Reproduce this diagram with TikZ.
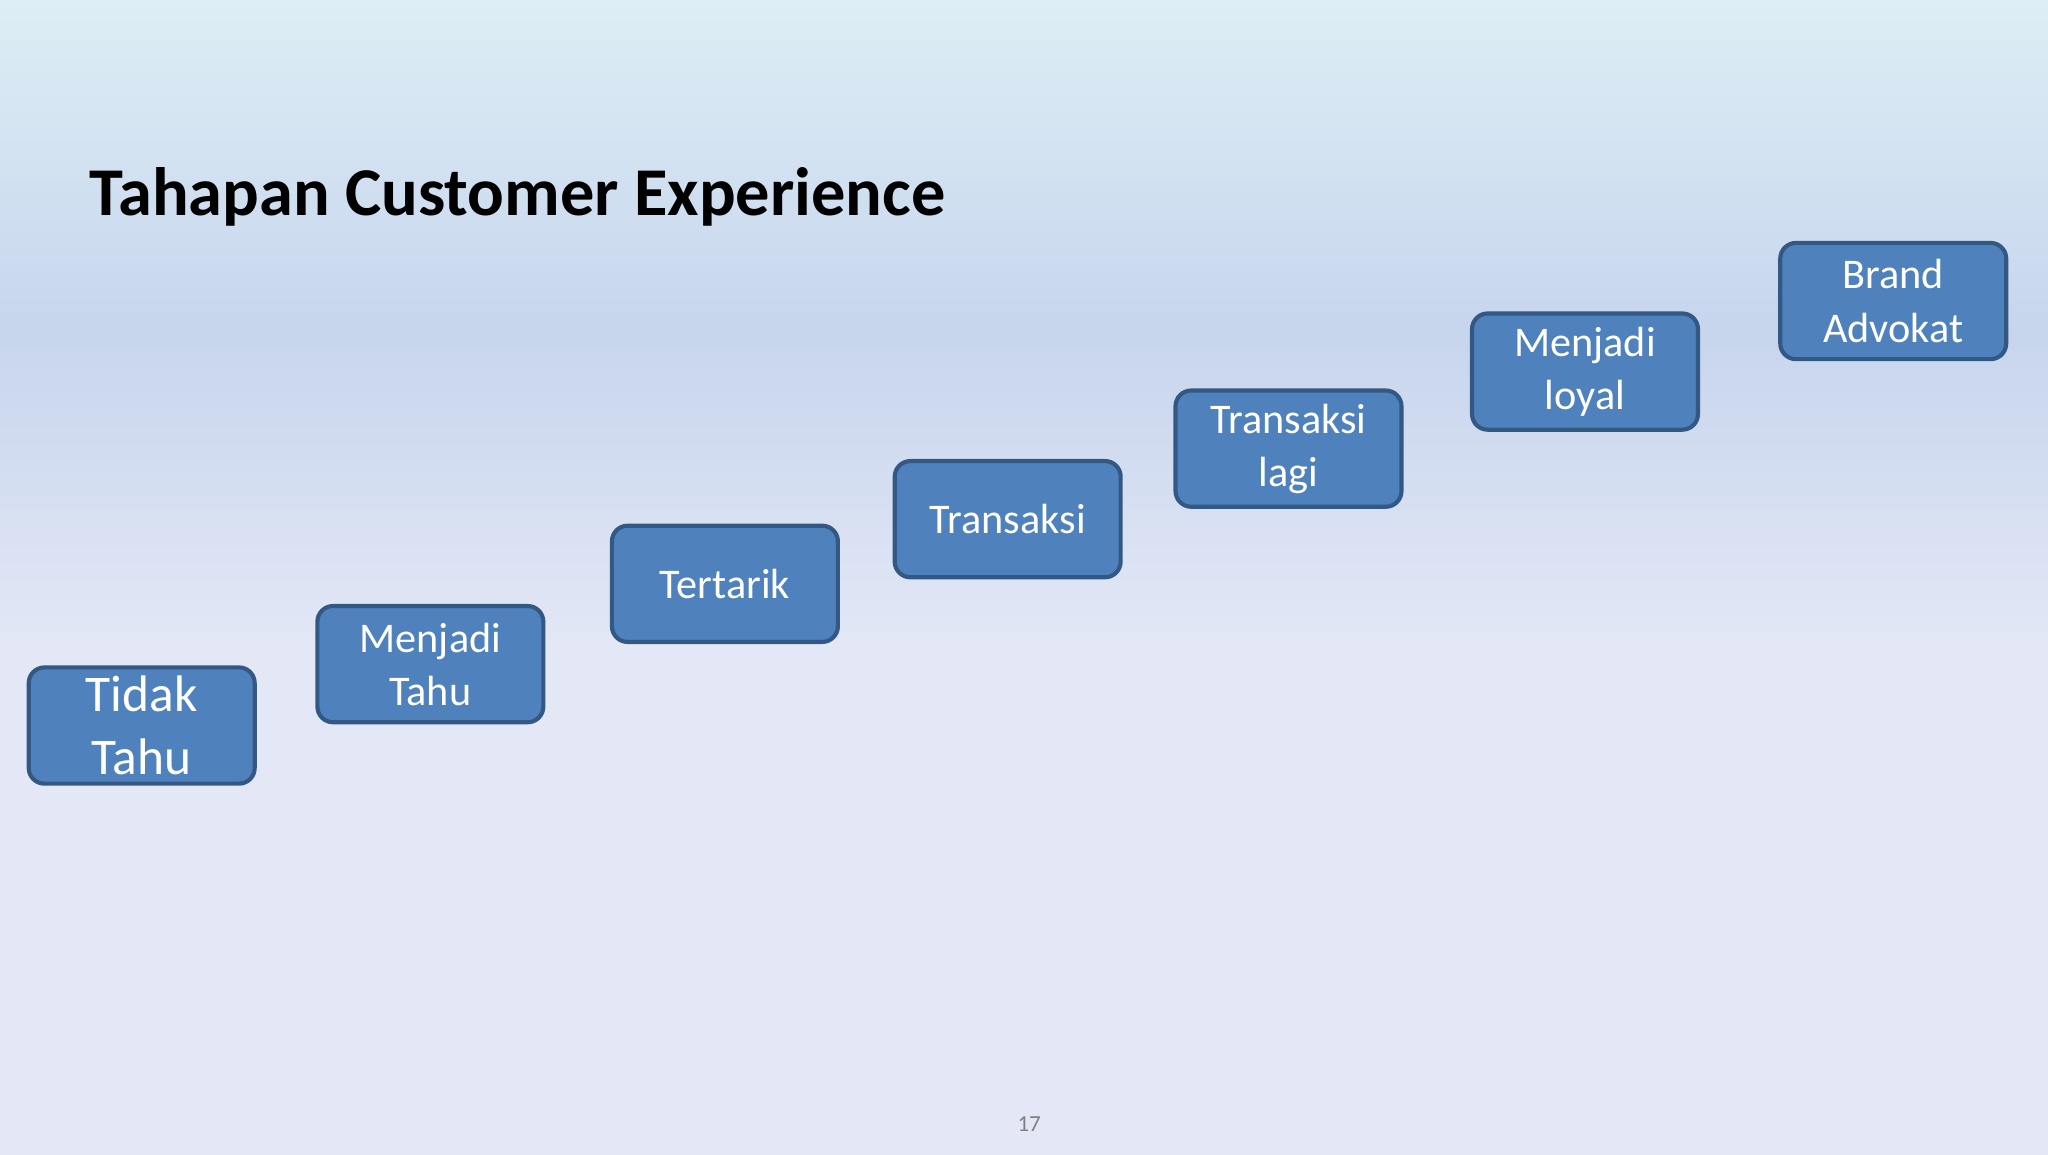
\documentclass[tikz,border=0pt]{standalone}
\usepackage{fontspec}
\setmainfont{Carlito}
\usetikzlibrary{positioning}
\definecolor{bgtop}{RGB}{221,238,245}
\definecolor{bgmid}{RGB}{199,213,237}
\definecolor{bgbot}{RGB}{228,232,246}
\definecolor{stepfill}{RGB}{79,129,189}
\definecolor{stepline}{RGB}{52,88,132}
\begin{document}
\begin{tikzpicture}[
    stepbox/.style={draw=stepline, line width=0.9pt, fill=stepfill,
        rounded corners=0.12cm, minimum width=1.73cm, minimum height=0.89cm,
        text=white, align=center, font=\fontsize{9.2}{11.6}\selectfont, inner sep=1pt}]
    % background bands
    \fill[bgbot] (0,0) rectangle (15.68,3.8);
    \shade[bottom color=bgbot, top color=bgmid] (0,3.8) rectangle (15.68,6.3);
    \shade[bottom color=bgmid, top color=bgtop] (0,6.3) rectangle (15.68,8.84);
    \useasboundingbox (0,0) rectangle (15.68,8.84);

    \node[anchor=base west, inner sep=0pt, font=\bfseries\fontsize{14.9}{16}\selectfont] (title)
        at (0.68,7.19) {Tahapan Customer Experience};

    \node[stepbox, font=\fontsize{11.2}{13.6}\selectfont] (tidak) at (1.085,3.285) {Tidak\\Tahu};
    \node[stepbox] (tahu) at (3.295,3.755) {Menjadi\\Tahu};
    \node[stepbox] (tertarik) at (5.55,4.37) {Tertarik};
    \node[stepbox] (transaksi) at (7.715,4.865) {Transaksi};
    \node[stepbox] (lagi) at (9.865,5.405) {Transaksi\\lagi};
    \node[stepbox] (loyal) at (12.135,5.995) {Menjadi\\loyal};
    \node[stepbox] (advokat) at (14.495,6.535) {Brand\\Advokat};

    \node[text=gray, font=\fontsize{5}{6}\selectfont] (page) at (7.88,0.23) {17};
\end{tikzpicture}
\end{document}
